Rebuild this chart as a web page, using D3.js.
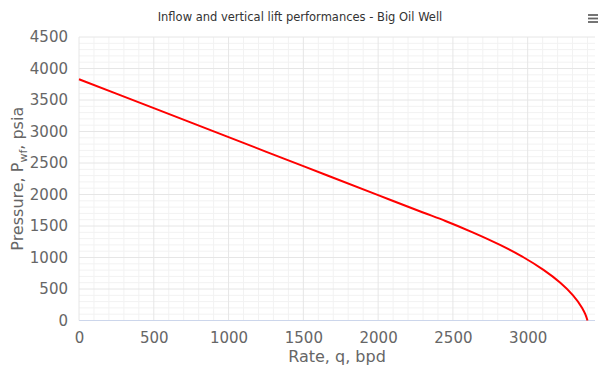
<!DOCTYPE html>
<html>
<head>
<meta charset="utf-8">
<script src="https://cdn.jsdelivr.net/npm/d3@7"></script>
<style>
  body { margin: 0; background: #fff; }
  svg { font-family: "Lucida Grande", "DejaVu Sans", sans-serif; }
</style>
</head>
<body>
<svg id="chart1" width="600" height="371"></svg>
<script>
// rate, bpd
const rate = [0, 500, 1000, 1500, 2000, 2300, 2450, 2632, 2815, 2974, 3108, 3218, 3303, 3364, 3385, 3400];
// flowing bottomhole pressure, psia
const pwf = [3830, 3370, 2910, 2450, 1990, 1715, 1580, 1400, 1200, 1000, 800, 600, 400, 200, 100, 0];

const xTicks = [0, 500, 1000, 1500, 2000, 2500, 3000];
const yTicks = [0, 500, 1000, 1500, 2000, 2500, 3000, 3500, 4000, 4500];

const width = 600;
const height = 371;
const margin = { top: 37, right: 5, bottom: 50.5, left: 79 };

const svg = d3.select("#chart1");

const x = d3.scaleLinear()
  .domain([0, 3450])
  .range([margin.left, width - margin.right]);
const y = d3.scaleLinear()
  .domain([0, 4500])
  .range([height - margin.bottom, margin.top]);

const grid = svg.append("g").attr("class", "grid");

// minor grid every 100
grid.selectAll("line.minor-x")
  .data(d3.range(100, 3451, 100).filter(d => d % 500 !== 0))
  .join("line")
  .attr("x1", d => x(d)).attr("x2", d => x(d))
  .attr("y1", y(4500)).attr("y2", y(0))
  .attr("stroke", "#f2f2f2");
grid.selectAll("line.minor-y")
  .data(d3.range(100, 4500, 100).filter(d => d % 500 !== 0))
  .join("line")
  .attr("x1", x(0)).attr("x2", x(3450))
  .attr("y1", d => y(d)).attr("y2", d => y(d))
  .attr("stroke", "#f2f2f2");

// major grid
grid.selectAll("line.major-x")
  .data(xTicks.slice(1))
  .join("line")
  .attr("x1", d => x(d)).attr("x2", d => x(d))
  .attr("y1", y(4500)).attr("y2", y(0))
  .attr("stroke", "#e6e6e6");
grid.selectAll("line.major-y")
  .data(yTicks.slice(1))
  .join("line")
  .attr("x1", x(0)).attr("x2", x(3450))
  .attr("y1", d => y(d)).attr("y2", d => y(d))
  .attr("stroke", "#e6e6e6");

// axis lines
svg.append("line")
  .attr("x1", x(0)).attr("x2", x(3450))
  .attr("y1", y(0)).attr("y2", y(0))
  .attr("stroke", "#ccd6eb");
svg.append("line")
  .attr("x1", x(0)).attr("x2", x(0))
  .attr("y1", y(4500)).attr("y2", y(0))
  .attr("stroke", "#e6e6e6");

const xAxis = g => g
  .call(d3.axisBottom(x).tickValues(xTicks).tickFormat(d3.format("d")).tickSize(0).tickPadding(12))
  .call(g => g.select(".domain").remove());
const yAxis = g => g
  .call(d3.axisLeft(y).tickValues(yTicks).tickFormat(d3.format("d")).tickSize(0).tickPadding(11))
  .call(g => g.select(".domain").remove());

svg.append("g")
  .attr("transform", `translate(0,${y(0)})`)
  .call(xAxis)
  .selectAll("text")
  .attr("font-family", "\"Lucida Grande\", \"DejaVu Sans\", sans-serif")
  .attr("font-size", 15)
  .attr("fill", "#666");

svg.append("g")
  .attr("transform", `translate(${x(0)},0)`)
  .call(yAxis)
  .selectAll("text")
  .attr("font-family", "\"Lucida Grande\", \"DejaVu Sans\", sans-serif")
  .attr("font-size", 15)
  .attr("fill", "#666");

// the curve
const points = rate.map((q, i) => [q, pwf[i]]);
svg.append("path")
  .datum(points)
  .attr("fill", "none")
  .attr("stroke", "#ff0000")
  .attr("stroke-width", 2)
  .attr("stroke-linejoin", "round")
  .attr("d", d3.line()
    .x(d => x(d[0]))
    .y(d => y(d[1]))
    .curve(d3.curveMonotoneY));

// titles
svg.append("text")
  .attr("x", 300).attr("y", 21)
  .attr("text-anchor", "middle")
  .attr("font-size", 11.5)
  .attr("fill", "#333")
  .text("Inflow and vertical lift performances - Big Oil Well");

svg.append("text")
  .attr("x", (x(0) + x(3450)) / 2).attr("y", 362)
  .attr("text-anchor", "middle")
  .attr("font-size", 16)
  .attr("fill", "#666")
  .text("Rate, q, bpd");

const yTitle = svg.append("text")
  .attr("transform", `translate(23,${(y(0) + y(4500)) / 2}) rotate(-90)`)
  .attr("text-anchor", "middle")
  .attr("font-size", 16)
  .attr("fill", "#666");
yTitle.append("tspan").text("Pressure, P");
yTitle.append("tspan").attr("font-size", 11).attr("dy", 4).text("wf");
yTitle.append("tspan").attr("dy", -4).text(", psia");

// menu button
svg.append("g")
  .selectAll("line")
  .data([0, 1, 2])
  .join("line")
  .attr("x1", 588).attr("x2", 598)
  .attr("y1", d => 15 + d * 3.5).attr("y2", d => 15 + d * 3.5)
  .attr("stroke", "#666")
  .attr("stroke-width", 1.8);
</script>
</body>
</html>
